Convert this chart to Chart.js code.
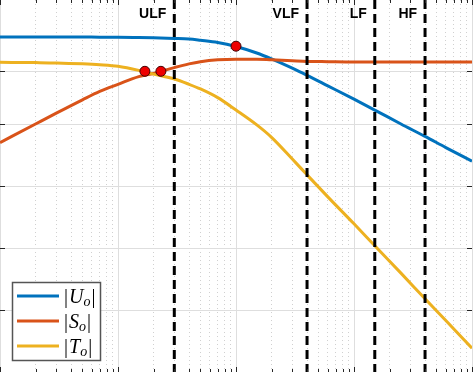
<!DOCTYPE html>
<html>
<head>
<meta charset="utf-8">
<script src="https://cdn.jsdelivr.net/npm/chart.js@4.4.1/dist/chart.umd.min.js"></script>
<style>
  html, body { margin: 0; padding: 0; background: #fff; }
  canvas { display: block; }
</style>
</head>
<body>
<canvas id="bode" width="474" height="372"></canvas>
<script>
// ---------------- data (dB vs frequency) ----------------
var freqs = [1e-4, 2e-4, 3e-4, 5e-4, 7e-4, 1e-3, 1.5e-3, 2e-3, 3e-3, 4e-3, 5e-3, 7e-3,
  1e-2, 1.5e-2, 2e-2, 3e-2, 4e-2, 6e-2, 0.1, 0.15, 0.25, 0.4, 0.6, 1];
var magU = [8.1, 8.1, 8.1, 8.1, 8.0, 8.0, 7.9, 7.8, 7.6, 7.4, 7.0, 6.3,
  5.0, 2.9, 1.0, -2.0, -4.3, -7.7, -12.0, -15.5, -20.0, -24.0, -27.6, -32.0];
var magS = [-26, -20, -16.5, -12.2, -9.5, -7.2, -4.7, -3.7, -1.8, -0.6, 0.1, 0.7,
  0.9, 0.9, 0.7, 0.4, 0.2, 0.1, 0, 0, 0, 0, 0, 0];
var magT = [-0.1, -0.2, -0.3, -0.6, -0.9, -1.4, -2.7, -3.9, -5.5, -7.2, -8.7, -11.5,
  -15.5, -20.3, -24.3, -31.3, -36.4, -43.5, -52.2, -59.3, -68.1, -76.4, -83.4, -92.3];

var labels = ['|U_o|', '|S_o|', '|T_o|'];
var colors = ['#0072BD', '#D95319', '#EDB120'];

// -3 dB bandwidth markers
var dotFreqs = [1e-2, 1.69e-3, 2.31e-3];
var dotMags = [5.1, -3, -3];

// HRV bands
var bandNames = ['ULF', 'VLF', 'LF', 'HF'];
var bandEdges = [0.003, 0.04, 0.15, 0.4];

var yTicks = [-3, -20, -40, -60, -80];
var xMin = 1e-4, xMax = 1, yMin = -100, yMax = 20;

// grid frequencies 1..9 x 10^n
var xGrid = [];
[1e-4, 1e-3, 1e-2, 1e-1].forEach(function (d) {
  for (var k = 1; k <= 9; k++) xGrid.push(+(k * d).toPrecision(3));
});
xGrid.push(1);

function isMajor(v) {
  var l = Math.log10(v);
  return Math.abs(l - Math.round(l)) < 1e-6;
}

function pts(xs, ys) {
  return xs.map(function (x, i) { return { x: x, y: ys[i] }; });
}

// ---------------- datasets ----------------
var datasets = [];

datasets.push({
  label: 'dots',
  data: pts(dotFreqs, dotMags),
  showLine: false,
  pointRadius: 5,
  pointBackgroundColor: '#ee0000',
  pointBorderColor: '#400000',
  pointBorderWidth: 1,
  order: 0
});

bandEdges.forEach(function (f, i) {
  datasets.push({
    label: 'band' + i,
    data: [{ x: f, y: yMax }, { x: f, y: yMin }],
    borderColor: '#000',
    borderWidth: 3,
    borderDash: [9, 5],
    pointRadius: 0,
    order: 1
  });
});

var mags = [magU, magS, magT];
mags.forEach(function (m, i) {
  datasets.push({
    label: labels[i],
    isCurve: true,
    data: pts(freqs, m),
    borderColor: colors[i],
    borderWidth: 3,
    pointRadius: 0,
    cubicInterpolationMode: 'monotone',
    order: 4 - i
  });
});

// ---------------- plugins ----------------
var boxTicks = {
  id: 'boxTicks',
  afterDatasetsDraw: function (chart) {
    var ctx = chart.ctx, a = chart.chartArea;
    var xs = chart.scales.x, ys = chart.scales.y;
    ctx.save();
    ctx.strokeStyle = '#262626';
    ctx.lineWidth = 1;
    ctx.beginPath();
    xGrid.forEach(function (v) {
      var px = Math.round(xs.getPixelForValue(v)) + 0.5;
      var len = isMajor(v) ? 5 : 3;
      ctx.moveTo(px, a.bottom); ctx.lineTo(px, a.bottom - len);
      ctx.moveTo(px, a.top); ctx.lineTo(px, a.top + len);
    });
    yTicks.forEach(function (v) {
      var py = Math.round(ys.getPixelForValue(v)) + 0.5;
      ctx.moveTo(a.left, py); ctx.lineTo(a.left + 5, py);
      ctx.moveTo(a.right, py); ctx.lineTo(a.right - 5, py);
    });
    ctx.stroke();
    ctx.restore();
  }
};

var bandText = {
  id: 'bandText',
  afterDatasetsDraw: function (chart) {
    var ctx = chart.ctx, xs = chart.scales.x;
    ctx.save();
    ctx.font = 'bold 14px "Liberation Sans", Arial, sans-serif';
    ctx.fillStyle = '#000';
    ctx.textAlign = 'right';
    ctx.textBaseline = 'middle';
    bandNames.forEach(function (name, i) {
      ctx.fillText(name, xs.getPixelForValue(bandEdges[i]) - 8, 14);
    });
    ctx.restore();
  }
};

// legend inside the plot, lower left
var boxLegend = {
  id: 'boxLegend',
  afterDraw: function (chart) {
    var ctx = chart.ctx;
    var curves = chart.data.datasets.filter(function (d) { return d.isCurve; });
    var left = 12, top = 282, w = 88, h = 78, row = 25;
    ctx.save();
    ctx.fillStyle = '#fff';
    ctx.fillRect(left, top, w, h);
    ctx.strokeStyle = '#555';
    ctx.lineWidth = 1.5;
    ctx.strokeRect(left + 0.5, top + 0.5, w, h);
    curves.forEach(function (d, i) {
      var cy = top + 14 + i * row;
      ctx.strokeStyle = d.borderColor;
      ctx.lineWidth = 3;
      ctx.beginPath();
      ctx.moveTo(left + 5, cy);
      ctx.lineTo(left + 47, cy);
      ctx.stroke();
      // "|X_o|"
      var parts = d.label.replace(/\|/g, '').split('_');
      var x = left + 52, base = cy + 7;
      ctx.fillStyle = '#000';
      ctx.textBaseline = 'alphabetic';
      ctx.textAlign = 'left';
      ctx.font = '20px "Liberation Serif", "DejaVu Serif", serif';
      ctx.fillText('|', x, base);
      x += ctx.measureText('|').width + 1;
      ctx.font = 'italic 20px "Liberation Serif", "DejaVu Serif", serif';
      ctx.fillText(parts[0], x, base);
      x += ctx.measureText(parts[0]).width;
      ctx.font = 'italic 14px "Liberation Serif", "DejaVu Serif", serif';
      ctx.fillText(parts[1], x, base + 3);
      x += ctx.measureText(parts[1]).width + 1;
      ctx.font = '20px "Liberation Serif", "DejaVu Serif", serif';
      ctx.fillText('|', x, base);
    });
    ctx.restore();
  }
};

// ---------------- chart ----------------
var chart = new Chart(document.getElementById('bode'), {
  type: 'line',
  data: { datasets: datasets },
  options: {
    responsive: false,
    animation: false,
    layout: { autoPadding: false, padding: { left: 0, right: 2, top: 0, bottom: 0 } },
    plugins: {
      legend: { display: false },
      tooltip: { enabled: false }
    },
    scales: {
      x: {
        type: 'logarithmic',
        min: xMin,
        max: xMax,
        afterBuildTicks: function (s) {
          s.ticks = xGrid.map(function (v) { return { value: v, major: isMajor(v) }; });
        },
        afterFit: function (s) { s.height = 0; },
        ticks: { display: false },
        grid: {
          drawTicks: false,
          color: function (c) {
            return c.tick && isMajor(c.tick.value) ? '#dedede' : '#d0d0d0';
          },
          lineWidth: 1
        },
        border: {
          display: false,
          dash: function (c) {
            return c.tick && !isMajor(c.tick.value) ? [1, 3] : [];
          }
        }
      },
      y: {
        type: 'linear',
        min: yMin,
        max: yMax,
        afterBuildTicks: function (s) {
          s.ticks = yTicks.map(function (v) { return { value: v }; });
        },
        afterFit: function (s) { s.width = 0; },
        ticks: { display: false },
        grid: { drawTicks: false, color: '#dedede', lineWidth: 1 },
        border: { display: false }
      }
    }
  },
  plugins: [boxTicks, bandText, boxLegend]
});
</script>
</body>
</html>
